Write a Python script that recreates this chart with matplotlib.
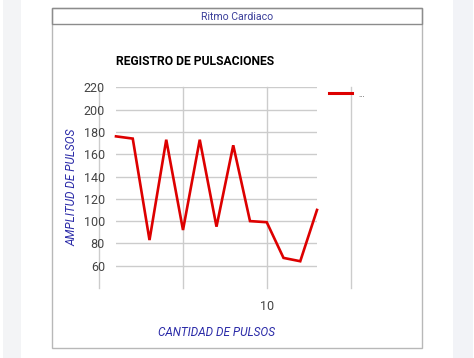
import matplotlib
matplotlib.use('Agg')
import matplotlib.pyplot as plt
from matplotlib.patches import Rectangle
from matplotlib.lines import Line2D

# data
pulse_idx = [1, 2, 3, 4, 5, 6, 7, 8, 9, 10, 11, 12, 13]
amplitude = [176, 174, 83, 173, 92, 173, 95, 168, 100, 99, 67, 64, 110]
y_ticks = [60, 80, 100, 120, 140, 160, 180, 200, 220]
x_grid = [0, 5, 10, 15]
x_ticks = [10]

W, H = 474, 358
plt.rcParams['font.family'] = ['Roboto', 'DejaVu Sans']

fig = plt.figure(figsize=(W / 100, H / 100), dpi=100)
fig.patch.set_facecolor('white')


def fx(px):
    return px / W


def fy(py):
    return 1 - py / H


# side stripes of the page
fig.add_artist(Rectangle((fx(3), 0), fx(18), 1, transform=fig.transFigure,
                         color='#f3f4f6', lw=0, zorder=0))
fig.add_artist(Rectangle((fx(453), 0), fx(20), 1, transform=fig.transFigure,
                         color='#f2f3f7', lw=0, zorder=0))

# card frame + header box
fig.add_artist(Rectangle((fx(52), fy(348)), fx(370), (340 / H), transform=fig.transFigure,
                         fill=False, ec='#b8b8b8', lw=1.0, zorder=1))
fig.add_artist(Rectangle((fx(52), fy(24)), fx(370), (16 / H), transform=fig.transFigure,
                         fill=False, ec='#8c8c8c', lw=1.0, zorder=1))
fig.text(fx(237.5), fy(16.5), 'Ritmo Cardiaco', ha='center', va='center',
         fontsize=7.6, color='#3b3f9a')

ax = fig.add_axes([fx(116), fy(288), fx(317) - fx(116), (288 - 87.3) / H])
ax.set_xlim(1, 13)
ax.set_ylim(40, 220)
ax.patch.set_alpha(0)
for s in ax.spines.values():
    s.set_visible(False)

# horizontal grid only inside the data span, vertical grid runs past it
for v in y_ticks:
    ax.axhline(v, color='#cccccc', lw=1.0, zorder=1)
for v in x_grid:
    ax.axvline(v, color='#cccccc', lw=1.0, zorder=1, clip_on=False)

ax.plot(pulse_idx, amplitude, color='#dd0000', lw=1.9, zorder=3,
        solid_joinstyle='miter', clip_on=False, label='...')

ax.set_yticks(y_ticks)
ax.set_xticks(x_ticks)
ax.tick_params(axis='both', length=0, labelsize=9, labelcolor='#444444')
ax.tick_params(axis='y', pad=8)
ax.tick_params(axis='x', pad=9)

ax.set_ylabel('AMPLITUD DE PULSOS', fontsize=8.5, style='italic',
              color='#2b2ba8', labelpad=4)
ax.set_xlabel('CANTIDAD DE PULSOS', fontsize=8.5, style='italic',
              color='#2b2ba8', labelpad=9)

fig.text(fx(116), fy(61.5), 'REGISTRO DE PULSACIONES', ha='left', va='center',
         fontsize=8.7, fontweight='bold', color='black')

# legend entry
fig.add_artist(Line2D([fx(329), fx(352)], [fy(92.7), fy(92.7)], transform=fig.transFigure,
                      color='#dd0000', lw=2.2))
fig.text(fx(358), fy(95), '...', ha='left', va='center', fontsize=6, color='#444444')

fig.savefig('out.png', dpi=100)
